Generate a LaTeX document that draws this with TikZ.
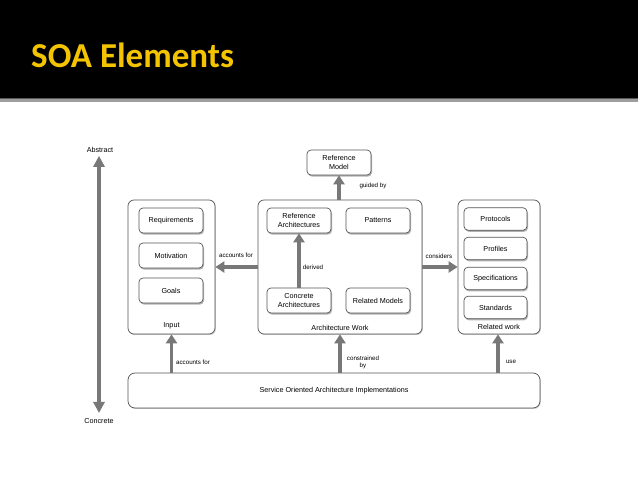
\documentclass[tikz,border=0pt]{standalone}
\usepackage{fontspec}
\setmainfont{Liberation Sans}
\newfontfamily\titlefont{Carlito}
\usetikzlibrary{arrows.meta,shadows}
\definecolor{titleyellow}{RGB}{244,196,0}
\definecolor{arrowgray}{RGB}{120,120,120}
\definecolor{boxline}{RGB}{85,85,85}
\tikzset{
  outerbox/.style={draw=boxline, line width=0.7pt, rounded corners=6pt, fill=white,
    drop shadow={shadow xshift=0.8pt, shadow yshift=-1pt, opacity=0.4}},
  innerbox/.style={draw=boxline, line width=0.7pt, rounded corners=4pt, fill=white,
    minimum width=64pt, minimum height=25pt, align=center, inner sep=1pt,
    font=\fontsize{7.2}{8.2}\selectfont,
    drop shadow={shadow xshift=1pt, shadow yshift=-1.6pt, opacity=0.6}},
  boxlabel/.style={font=\fontsize{7.2}{8.2}\selectfont, inner sep=0pt},
  edgelabel/.style={font=\fontsize{6.2}{7.2}\selectfont, inner sep=0pt, align=center},
  bigarrow/.style={draw=arrowgray, line width=3.6pt, -{Triangle[length=9pt,width=11pt]}, shorten >=0pt},
}
\begin{document}
\begin{tikzpicture}[x=1pt,y=-1pt]
\useasboundingbox (0,0) rectangle (638,478);
\fill[white] (0,0) rectangle (638,478);
% header
\fill[black] (0,0) rectangle (638,98);
\fill[black!65] (0,98) rectangle (638,99.5);
\fill[black!38] (0,99.5) rectangle (638,102.5);
\node[anchor=base west, text=titleyellow, inner sep=0pt, font=\titlefont\bfseries\fontsize{35}{40}\selectfont] (title) at (31,68) {SOA Elements};

% Abstract / Concrete axis
\node[boxlabel] (abstract) at (100,150) {Abstract};
\node[boxlabel] (concrete) at (99,421) {Concrete};
\draw[draw=arrowgray, line width=3.6pt, {Triangle[length=11pt,width=11pt]}-{Triangle[length=11pt,width=11pt]}] (abstract.south) ++(-1,3) coordinate (axtop) -- (concrete.north |- 0,413) coordinate (axbot);

% outer boxes
\node[outerbox, minimum width=87pt, minimum height=134pt] (input) at (171.5,267) {};
\node[outerbox, minimum width=164pt, minimum height=134pt] (archwork) at (340,267) {};
\node[outerbox, minimum width=82pt, minimum height=134pt] (related) at (499,267) {};
\node[outerbox, rounded corners=7pt, minimum width=412pt, minimum height=35pt, font=\fontsize{7.2}{8.2}\selectfont] (soa) at (334,390.5) {Service Oriented Architecture Implementations};

\node[boxlabel] at (171.5,326) {Input};
\node[boxlabel] at (340,328) {Architecture Work};
\node[boxlabel] at (499,327) {Related work};

% Input items
\node[innerbox] (req) at (171,220.5) {Requirements};
\node[innerbox] (mot) at (171,255.5) {Motivation};
\node[innerbox] (goals) at (171,290.5) {Goals};

% Architecture work items
\node[innerbox] (refarch) at (299,220.5) {Reference\\Architectures};
\node[innerbox] (patterns) at (378,220.5) {Patterns};
\node[innerbox] (concarch) at (299,300.5) {Concrete\\Architectures};
\node[innerbox] (relmodels) at (378,300.5) {Related Models};

% Reference model
\node[innerbox] (refmodel) at (339,162.5) {Reference\\Model};

% Related work items
\node[innerbox, minimum width=63pt, minimum height=22.5pt] (protocols) at (495.5,219) {Protocols};
\node[innerbox, minimum width=63pt, minimum height=22.5pt] (profiles) at (495.5,248.5) {Profiles};
\node[innerbox, minimum width=63pt, minimum height=22.5pt] (specs) at (495.5,278.5) {Specifications};
\node[innerbox, minimum width=63pt, minimum height=22.5pt] (standards) at (495.5,307.5) {Standards};

% arrows
\draw[bigarrow] (archwork.north -| refmodel.south) -- (refmodel.south);
\node[edgelabel] at (373,185.5) {guided by};

\draw[bigarrow] (concarch.north) -- (refarch.south);
\node[edgelabel] at (313,267) {derived};

\draw[bigarrow] (archwork.west |- 0,267) -- (input.east |- 0,267);
\node[edgelabel] at (236,255) {accounts for};

\draw[bigarrow] (archwork.east |- 0,267) -- (related.west |- 0,267);
\node[edgelabel] at (439,256) {considers};

\draw[bigarrow] (soa.north -| input.south) -- (input.south);
\node[edgelabel, anchor=west] at (176,362) {accounts for};

\draw[bigarrow] (soa.north -| archwork.south) -- (archwork.south);
\node[edgelabel] at (363,362) {constrained\\by};

\draw[bigarrow] (soa.north -| 498,0) -- (related.south -| 498,0);
\node[edgelabel] at (511,362) {use};
\end{tikzpicture}
\end{document}
